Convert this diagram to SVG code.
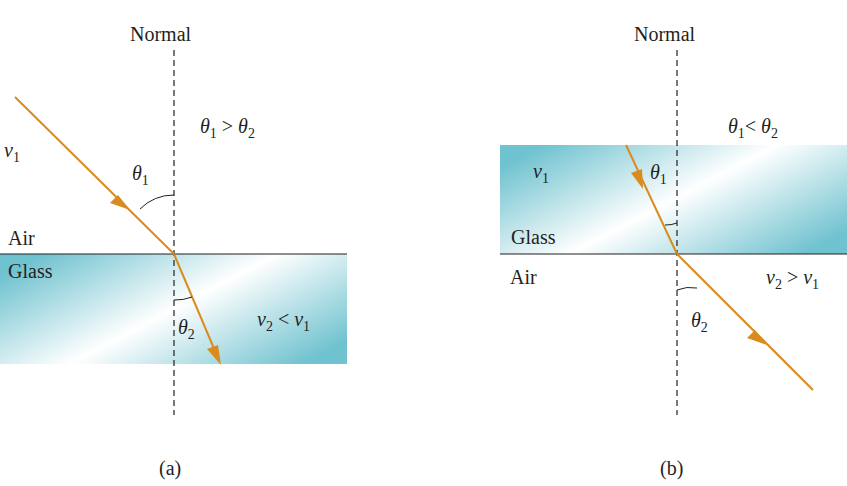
<svg xmlns="http://www.w3.org/2000/svg" width="847" height="486" viewBox="0 0 847 486">
<style>
text{font-family:"Liberation Serif","DejaVu Serif",serif;font-size:20px;fill:#231f20}
.i{font-style:italic}
.s{font-size:14px;font-style:normal}
.ray{stroke:#d98b1e;stroke-width:2;fill:none}
.ah{fill:#d98b1e}
.nrm{stroke:#231f20;stroke-width:1.2;stroke-dasharray:6,4}
.arc{stroke:#231f20;stroke-width:1;fill:none}
</style>
<defs>
<linearGradient id="g" x1="0" y1="0.2" x2="1" y2="0.8">
<stop offset="0" stop-color="#6fc2cf"/><stop offset="0.5" stop-color="#ffffff"/><stop offset="1" stop-color="#6fc2cf"/>
</linearGradient>
</defs>
<g id="glassA"><rect x="0" y="254" width="347" height="110" fill="url(#g)"/><line x1="0" y1="254" x2="347" y2="254" stroke="#231f20" stroke-width="1.2"/></g>
<g id="glassB"><rect x="500" y="145" width="347" height="109" fill="url(#g)"/><line x1="500" y1="254" x2="847" y2="254" stroke="#231f20" stroke-width="1.2"/></g>
<g id="connectors">
<line class="nrm" x1="174" y1="50" x2="174" y2="415"/>
<line class="nrm" x1="677" y1="50" x2="677" y2="415"/>
<path class="ray" d="M15,97L174,254"/>
<path class="ah" d="M130,210l-20,-7l8,-8z"/>
<path class="ray" d="M174,254L218,358"/>
<path class="ah" d="M221,365l-14,-16l11,-4z"/>
<path class="ray" d="M626,145L677,254"/>
<path class="ah" d="M643,189l-12,-16l11,-4z"/>
<path class="ray" d="M677,254L813,390"/>
<path class="ah" d="M767,345l-20,-7l8,-8z"/>
<path class="arc" d="M140,209A48,48 0 0 1 174,195"/>
<path class="arc" d="M174,300A46,46 0 0 0 192,297"/>
<path class="arc" d="M665,225A30,30 0 0 0 677,223"/>
<path class="arc" d="M677,290A36,36 0 0 1 697,288"/>
</g>
<g id="labels">
<text x="130" y="41">Normal</text>
<text x="634" y="41">Normal</text>
<text x="200" y="133" class="i">θ<tspan class="s" dy="5">1</tspan><tspan dy="-5" font-style="normal"> &gt; </tspan>θ<tspan class="s" dy="5">2</tspan></text>
<text x="728" y="133" class="i">θ<tspan class="s" dy="5">1</tspan><tspan dy="-5" font-style="normal">&lt; </tspan>θ<tspan class="s" dy="5">2</tspan></text>
<text x="4" y="157" class="i">v<tspan class="s" dy="5">1</tspan></text>
<text x="132" y="180" class="i">θ<tspan class="s" dy="5">1</tspan></text>
<text x="8" y="245">Air</text>
<text x="8" y="278">Glass</text>
<text x="178" y="334" class="i">θ<tspan class="s" dy="5">2</tspan></text>
<text x="257" y="326" class="i">v<tspan class="s" dy="5">2</tspan><tspan dy="-5" font-style="normal"> &lt; </tspan>v<tspan class="s" dy="5">1</tspan></text>
<text x="159" y="475">(a)</text>
<text x="533" y="178" class="i">v<tspan class="s" dy="5">1</tspan></text>
<text x="650" y="179" class="i">θ<tspan class="s" dy="5">1</tspan></text>
<text x="511" y="244">Glass</text>
<text x="510" y="284">Air</text>
<text x="766" y="284" class="i">v<tspan class="s" dy="5">2</tspan><tspan dy="-5" font-style="normal"> &gt; </tspan>v<tspan class="s" dy="5">1</tspan></text>
<text x="691" y="327" class="i">θ<tspan class="s" dy="5">2</tspan></text>
<text x="660" y="475">(b)</text>
</g>
</svg>
